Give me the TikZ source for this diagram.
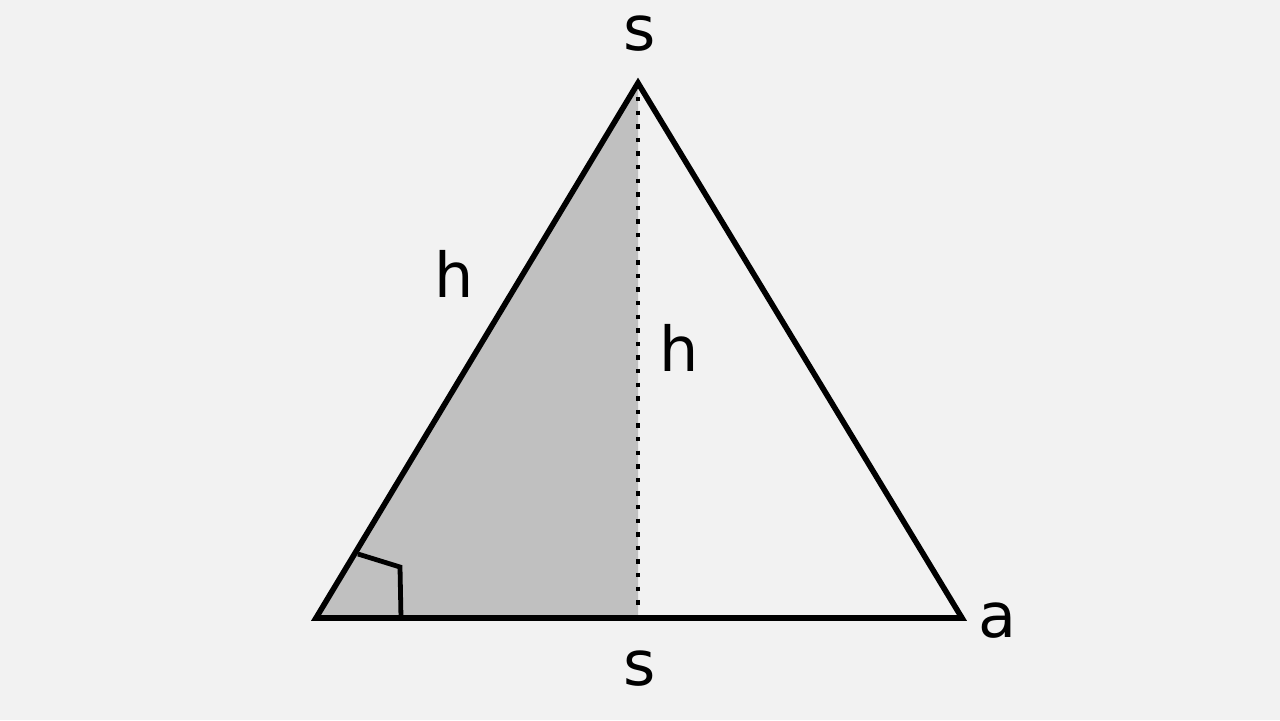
\documentclass[tikz,border=0pt]{standalone}
\usepackage{fontspec}
\setmainfont{DejaVu Sans}
\begin{document}
\begin{tikzpicture}[x=0.5pt,y=-0.5pt,
  edge/.style={line width=2.8pt,line join=miter,black},
  lbl/.style={font=\fontsize{31}{31}\selectfont,inner sep=0pt},
  dotline/.style={line width=2.4pt,dash pattern=on 2.2pt off 4.6pt,black}]
\fill[fill={rgb,255:red,242;green,242;blue,242}] (0,0) rectangle (1280,720);
\useasboundingbox (0,0) rectangle (1280,720);
\coordinate (L) at (316,618);
\coordinate (T) at (638,83);
\coordinate (R) at (962,618);
\coordinate (M) at (638,618);
\coordinate (Dt) at (638,97);
\coordinate (Db) at (638,606);
\coordinate (A1) at (358,554);
\coordinate (A2) at (400,567);
\coordinate (A3) at (401,618);
\fill[fill={rgb,255:red,192;green,192;blue,192}] (L) -- (T) -- (M) -- cycle;
\draw[dotline] (Dt) -- (Db);
\draw[line width=2.4pt,line join=miter] (A1) -- (A2) -- (A3);
\draw[edge] (L) -- (T) -- (R) -- cycle;
\node[lbl] (st) at (640,34) {s};
\node[lbl] (sb) at (640,669) {s};
\node[lbl] (a) at (997,621) {a};
\node[lbl] (h1) at (454,274) {h};
\node[lbl] (h2) at (679,348) {h};
\end{tikzpicture}
\end{document}
